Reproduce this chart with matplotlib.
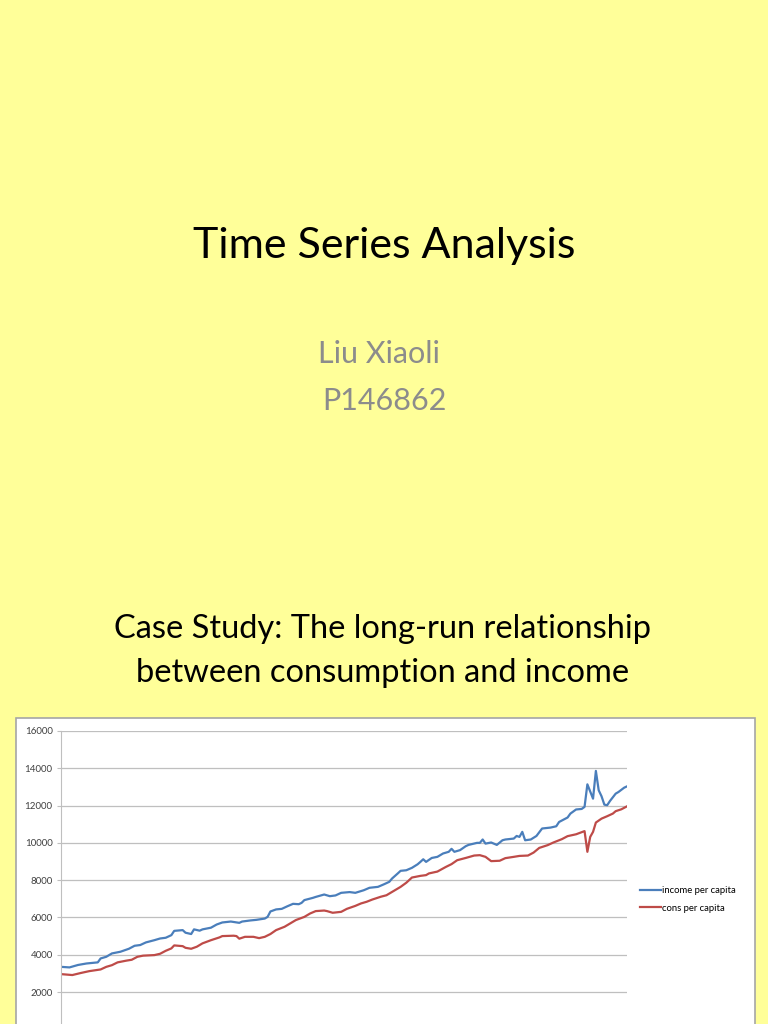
import matplotlib
matplotlib.use("Agg")
import matplotlib.pyplot as plt
from matplotlib.patches import Rectangle

plt.rcParams["font.family"] = ["Lato", "DejaVu Sans"]

income_t = [0, 3, 6, 9, 13, 14, 16, 18, 21, 24, 26, 28, 30, 33, 35, 37, 39, 40,
            43, 44, 46, 47, 49, 50, 53, 55, 57, 60, 63, 64, 67, 69, 72, 73, 74,
            76, 78, 80, 82, 84, 85, 86, 89, 90, 93, 95, 97, 99, 102, 104, 107,
            109, 112, 114, 116, 117, 119, 120, 122, 124, 126, 127, 128, 129,
            131, 133, 135, 137, 138, 139, 141, 143, 144, 147, 148, 149, 150,
            152, 154, 156, 157, 160, 161, 162, 163, 164, 166, 168, 170, 173,
            175, 176, 179, 180, 182, 184, 185, 186, 188, 189, 190, 191, 192,
            193, 194, 196, 197, 199, 200]
income = [3350, 3320, 3450, 3530, 3590, 3800, 3890, 4070, 4160, 4320, 4480,
          4520, 4660, 4780, 4870, 4910, 5050, 5280, 5320, 5180, 5110, 5360,
          5290, 5360, 5450, 5620, 5730, 5780, 5710, 5780, 5840, 5870, 5940,
          6030, 6320, 6430, 6460, 6600, 6730, 6710, 6780, 6930, 7050, 7100,
          7230, 7140, 7180, 7320, 7360, 7320, 7460, 7590, 7640, 7770, 7910,
          8090, 8360, 8500, 8530, 8660, 8850, 8980, 9120, 8980, 9190, 9250,
          9430, 9520, 9680, 9520, 9610, 9820, 9890, 10000, 10000, 10180, 9960,
          10020, 9890, 10140, 10180, 10230, 10370, 10320, 10590, 10140, 10180,
          10370, 10770, 10820, 10890, 11120, 11360, 11570, 11790, 11820, 11930,
          13140, 12370, 13860, 12820, 12500, 12050, 12020, 12250, 12640, 12730,
          12960, 13030]

cons_t = [0, 4, 7, 10, 14, 16, 18, 20, 23, 25, 27, 29, 33, 35, 37, 39, 40, 43,
          44, 46, 48, 50, 53, 56, 57, 61, 62, 63, 65, 68, 70, 72, 74, 76, 79,
          81, 83, 86, 88, 90, 93, 94, 96, 99, 101, 104, 106, 108, 110, 113, 115,
          117, 120, 122, 124, 127, 129, 130, 133, 136, 138, 140, 143, 146, 148,
          150, 152, 155, 157, 160, 162, 165, 167, 169, 172, 174, 177, 179, 182,
          185, 186, 187, 188, 189, 191, 193, 195, 196, 198, 200]
cons = [2960, 2910, 3020, 3120, 3210, 3350, 3440, 3590, 3680, 3730, 3890, 3950,
        3980, 4050, 4210, 4340, 4500, 4460, 4370, 4320, 4430, 4610, 4780, 4930,
        5000, 5020, 5000, 4860, 4960, 4960, 4890, 4960, 5110, 5320, 5500, 5680,
        5860, 6030, 6210, 6340, 6370, 6340, 6250, 6300, 6460, 6620, 6750, 6840,
        6960, 7110, 7190, 7370, 7640, 7860, 8140, 8230, 8270, 8360, 8460, 8710,
        8860, 9070, 9190, 9320, 9340, 9250, 9020, 9040, 9180, 9250, 9300, 9320,
        9480, 9730, 9880, 10020, 10200, 10360, 10460, 10630, 9520, 10320, 10590,
        11090, 11300, 11430, 11570, 11700, 11800, 11960]

y_ticks = [2000, 4000, 6000, 8000, 10000, 12000, 14000, 16000]

W, H = 768, 1024
fig = plt.figure(figsize=(W / 100, H / 100), dpi=100)
fig.patch.set_facecolor("#FFFF99")

fig.text(384 / W, 1 - 258 / H, "Time Series Analysis", ha="center",
         va="baseline", fontsize=31, color="black")
fig.text(379 / W, 1 - 363 / H, "Liu Xiaoli", ha="center", va="baseline",
         fontsize=22, color="#8C8C8C")
fig.text(384 / W, 1 - 410 / H, "P146862", ha="center", va="baseline",
         fontsize=22, color="#8C8C8C")
fig.text(383 / W, 1 - 638 / H, "Case Study: The long-run relationship",
         ha="center", va="baseline", fontsize=23.5, color="black")
fig.text(383 / W, 1 - 682 / H, "between consumption and income",
         ha="center", va="baseline", fontsize=23.5, color="black")

# chart frame
fig.patches.append(Rectangle((16 / W, -0.02), (755 - 16) / W,
                             0.02 + 1 - 718 / H, transform=fig.transFigure,
                             facecolor="white", edgecolor="#A6A6A6",
                             linewidth=1.2, zorder=-1))

y0 = 1029.3
ax = fig.add_axes([61 / W, 1 - y0 / H, (627 - 61) / W, (y0 - 731) / H])
ax.set_zorder(2)
ax.set_facecolor("none")
ax.plot(income_t, income, color="#4A7EBB", lw=1.6, label="income per capita")
ax.plot(cons_t, cons, color="#BE4B48", lw=1.6, label="cons per capita")
ax.set_xlim(0, 200)
ax.set_ylim(0, 16000)
ax.set_yticks(y_ticks)
ax.set_yticklabels([str(v) for v in y_ticks])
ax.tick_params(axis="y", labelsize=7, colors="#404040", length=3,
               color="#BFBFBF", pad=3)
ax.set_xticks([])
ax.grid(axis="y", color="#BFBFBF", lw=0.9)
ax.set_axisbelow(True)
for s in ["top", "right", "bottom"]:
    ax.spines[s].set_visible(False)
ax.spines["left"].set_color("#BFBFBF")

ax.legend(loc="center left", bbox_to_anchor=((643 - 61) / (627 - 61) - 0.012,
                                             (y0 - 899.5) / (y0 - 731)),
          frameon=False, fontsize=6.8, handlelength=2.2, handletextpad=0.1,
          labelspacing=0.85, borderaxespad=0)

fig.savefig("out.png", dpi=100, facecolor=fig.get_facecolor())
